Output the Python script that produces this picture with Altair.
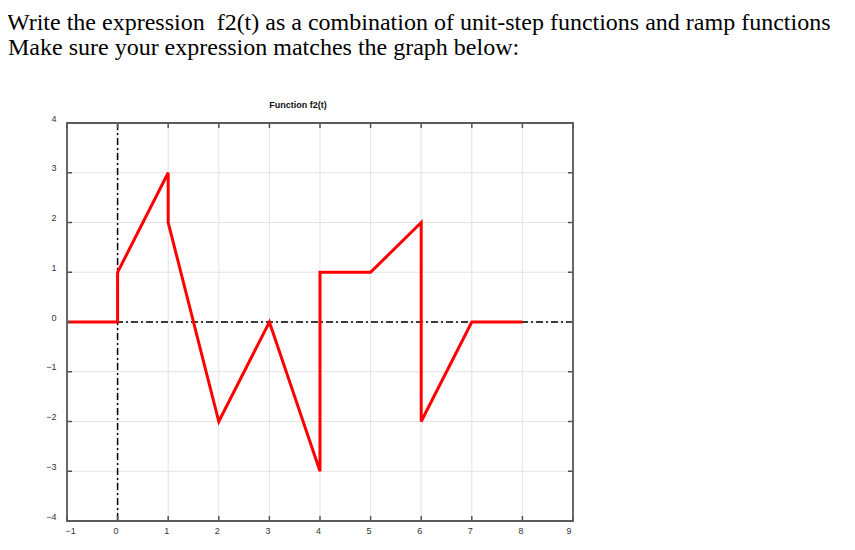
import altair as alt
import pandas as pd

# ---- data ----
t_vals = [-1, 0, 0, 1, 1, 2, 3, 4, 4, 5, 6, 6, 7, 8]
f_vals = [0, 0, 1, 3, 2, -2, 0, -3, 1, 1, 2, -2, 0, 0]
x_ticks = [-1, 0, 1, 2, 3, 4, 5, 6, 7, 8, 9]
y_ticks = [-4, -3, -2, -1, 0, 1, 2, 3, 4]
header_lines = [
    "Write the expression \u00a0f2(t) as a combination of unit-step functions and ramp functions",
    "Make sure your expression matches the graph below:",
]
plot_title = "Function f2(t)"

W, H = 506, 398

line_df = pd.DataFrame({"t": t_vals, "f": f_vals, "i": list(range(len(t_vals)))})
xt_df = pd.DataFrame({"t": x_ticks})
yt_df = pd.DataFrame({"f": y_ticks})
zero_df = pd.DataFrame({"t": [0], "f": [0]})

xscale = alt.Scale(domain=[-1, 9], nice=False, zero=False)
yscale = alt.Scale(domain=[-4, 4], nice=False, zero=False)

xaxis = alt.Axis(values=x_ticks, title=None, grid=False, ticks=False, tickSize=0,
                 domain=False, labelFont="Liberation Sans", labelFontSize=9,
                 labelColor="#333", labelPadding=5, labelOffset=-2)
yaxis = alt.Axis(values=y_ticks, title=None, grid=False, ticks=False, tickSize=0,
                 domain=False, labelFont="Liberation Sans", labelFontSize=9,
                 labelColor="#333", labelPadding=11, labelOffset=-5)

X = lambda field: alt.X(field, type="quantitative", scale=xscale, axis=xaxis)
Y = lambda field: alt.Y(field, type="quantitative", scale=yscale, axis=yaxis)

grid_x = alt.Chart(xt_df).mark_rule(color="#e3e3e3", strokeWidth=1).encode(x=X("t"))
grid_y = alt.Chart(yt_df).mark_rule(color="#e3e3e3", strokeWidth=1).encode(y=Y("f"))

tick_style = dict(color="#555", strokeWidth=1.5)
tick_b = alt.Chart(xt_df).mark_rule(**tick_style).encode(
    x=X("t"), y=alt.value(H - 5), y2=alt.value(H))
tick_t = alt.Chart(xt_df).mark_rule(**tick_style).encode(
    x=X("t"), y=alt.value(0), y2=alt.value(5))
tick_l = alt.Chart(yt_df).mark_rule(**tick_style).encode(
    y=Y("f"), x=alt.value(0), x2=alt.value(5))
tick_r = alt.Chart(yt_df).mark_rule(**tick_style).encode(
    y=Y("f"), x=alt.value(W - 5), x2=alt.value(W))

dash = [7, 3, 2, 3]
vline = alt.Chart(zero_df).mark_rule(color="black", strokeWidth=1.5, strokeDash=dash).encode(x=X("t"))
hline = alt.Chart(zero_df).mark_rule(color="black", strokeWidth=1.5, strokeDash=dash).encode(y=Y("f"))

curve = alt.Chart(line_df).mark_line(color="#ff0000", strokeWidth=3).encode(
    x=X("t"), y=Y("f"), order="i:Q")

frame = alt.Chart(zero_df).mark_rect(fill=None, stroke="#5a5a5a", strokeWidth=1.8).encode(
    x=alt.value(0), x2=alt.value(W), y=alt.value(0), y2=alt.value(H))

title_df = pd.DataFrame({"txt": [plot_title]})
ptitle = alt.Chart(title_df).mark_text(
    font="Liberation Sans", fontSize=9, fontWeight="bold", color="#111",
    align="center", baseline="alphabetic").encode(
    text="txt:N", x=alt.value(231), y=alt.value(-15))

h1_df = pd.DataFrame({"txt": [header_lines[0]]})
h2_df = pd.DataFrame({"txt": [header_lines[1]]})
hstyle = dict(font="Liberation Serif", fontSize=24, color="black",
              align="left", baseline="alphabetic")
h1 = alt.Chart(h1_df).mark_text(**hstyle).encode(text="txt:N", x=alt.value(-60), y=alt.value(-93))
h2 = alt.Chart(h2_df).mark_text(**hstyle).encode(text="txt:N", x=alt.value(-59), y=alt.value(-68))

chart = alt.layer(
    grid_x, grid_y, vline, hline, curve, tick_b, tick_t, tick_l, tick_r, frame,
    ptitle, h1, h2
).properties(
    width=W, height=H,
    autosize=alt.AutoSizeParams(type="none"),
    padding={"left": 59, "top": 115, "right": 270, "bottom": 20},
).configure_view(stroke=None)

chart.save("out.html", embed_options={"renderer": "svg", "actions": False})
